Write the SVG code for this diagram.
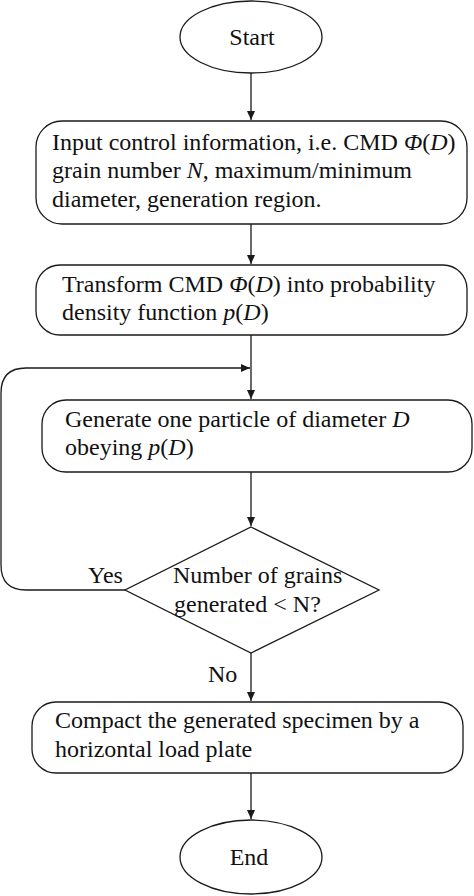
<svg xmlns="http://www.w3.org/2000/svg" width="474" height="896" viewBox="0 0 474 896">
<defs>
<marker id="arr" markerWidth="10" markerHeight="10" refX="9" refY="5" orient="auto" markerUnits="userSpaceOnUse">
<path d="M0,1 L9,5 L0,9 Z" fill="#1a1a1a"/>
</marker>
<style>
.n{fill:#fff;stroke:#1a1a1a;stroke-width:1.3}
.c{fill:none;stroke:#1a1a1a;stroke-width:1.3}
text{font-family:"Liberation Serif","Times New Roman",serif;font-size:24px;fill:#111}
.i{font-style:italic}
</style>
</defs>
<rect width="474" height="896" fill="#fff"/>
<g id="connectors">
<line class="c" x1="251" y1="73" x2="251" y2="120" marker-end="url(#arr)"/>
<line class="c" x1="251" y1="224" x2="251" y2="264" marker-end="url(#arr)"/>
<line class="c" x1="251" y1="335" x2="251" y2="399" marker-end="url(#arr)"/>
<path class="c" d="M125,590 H26 Q1,590 1,565 V393 Q1,368 26,368 H250" marker-end="url(#arr)"/>
<line class="c" x1="251" y1="472" x2="251" y2="526" marker-end="url(#arr)"/>
<line class="c" x1="251" y1="653" x2="251" y2="701" marker-end="url(#arr)"/>
<line class="c" x1="251" y1="773" x2="251" y2="819" marker-end="url(#arr)"/>
<text x="88" y="583">Yes</text>
<text x="208" y="682">No</text>
</g>
<g id="start">
<ellipse class="n" cx="251" cy="37" rx="71" ry="36"/>
<text x="252" y="45" text-anchor="middle">Start</text>
</g>
<g id="input">
<rect class="n" x="36" y="121" width="431" height="103" rx="26"/>
<text x="52" y="150">Input control information, i.e. CMD <tspan class="i">Φ</tspan>(<tspan class="i">D</tspan>)</text>
<text x="52" y="178">grain number <tspan class="i">N</tspan>, maximum/minimum</text>
<text x="52" y="207">diameter, generation region.</text>
</g>
<g id="transform">
<rect class="n" x="36" y="265" width="431" height="70" rx="24"/>
<text x="62" y="292">Transform CMD <tspan class="i">Φ</tspan>(<tspan class="i">D</tspan>) into probability</text>
<text x="62" y="320">density function <tspan class="i">p</tspan>(<tspan class="i">D</tspan>)</text>
</g>
<g id="generate">
<rect class="n" x="42" y="400" width="430" height="72" rx="24"/>
<text x="65" y="427">Generate one particle of diameter <tspan class="i">D</tspan></text>
<text x="65" y="455">obeying <tspan class="i">p</tspan>(<tspan class="i">D</tspan>)</text>
</g>
<g id="decision">
<polygon class="n" points="251,527 379,590 251,653 125,590"/>
<text x="173" y="583">Number of grains</text>
<text x="174" y="612">generated &lt; N?</text>
</g>
<g id="compact">
<rect class="n" x="32" y="702" width="431" height="71" rx="24"/>
<text x="55" y="728">Compact the generated specimen by a</text>
<text x="55" y="757">horizontal load plate</text>
</g>
<g id="end">
<ellipse class="n" cx="251" cy="857" rx="71" ry="37"/>
<text x="249" y="865" text-anchor="middle">End</text>
</g>
</svg>
